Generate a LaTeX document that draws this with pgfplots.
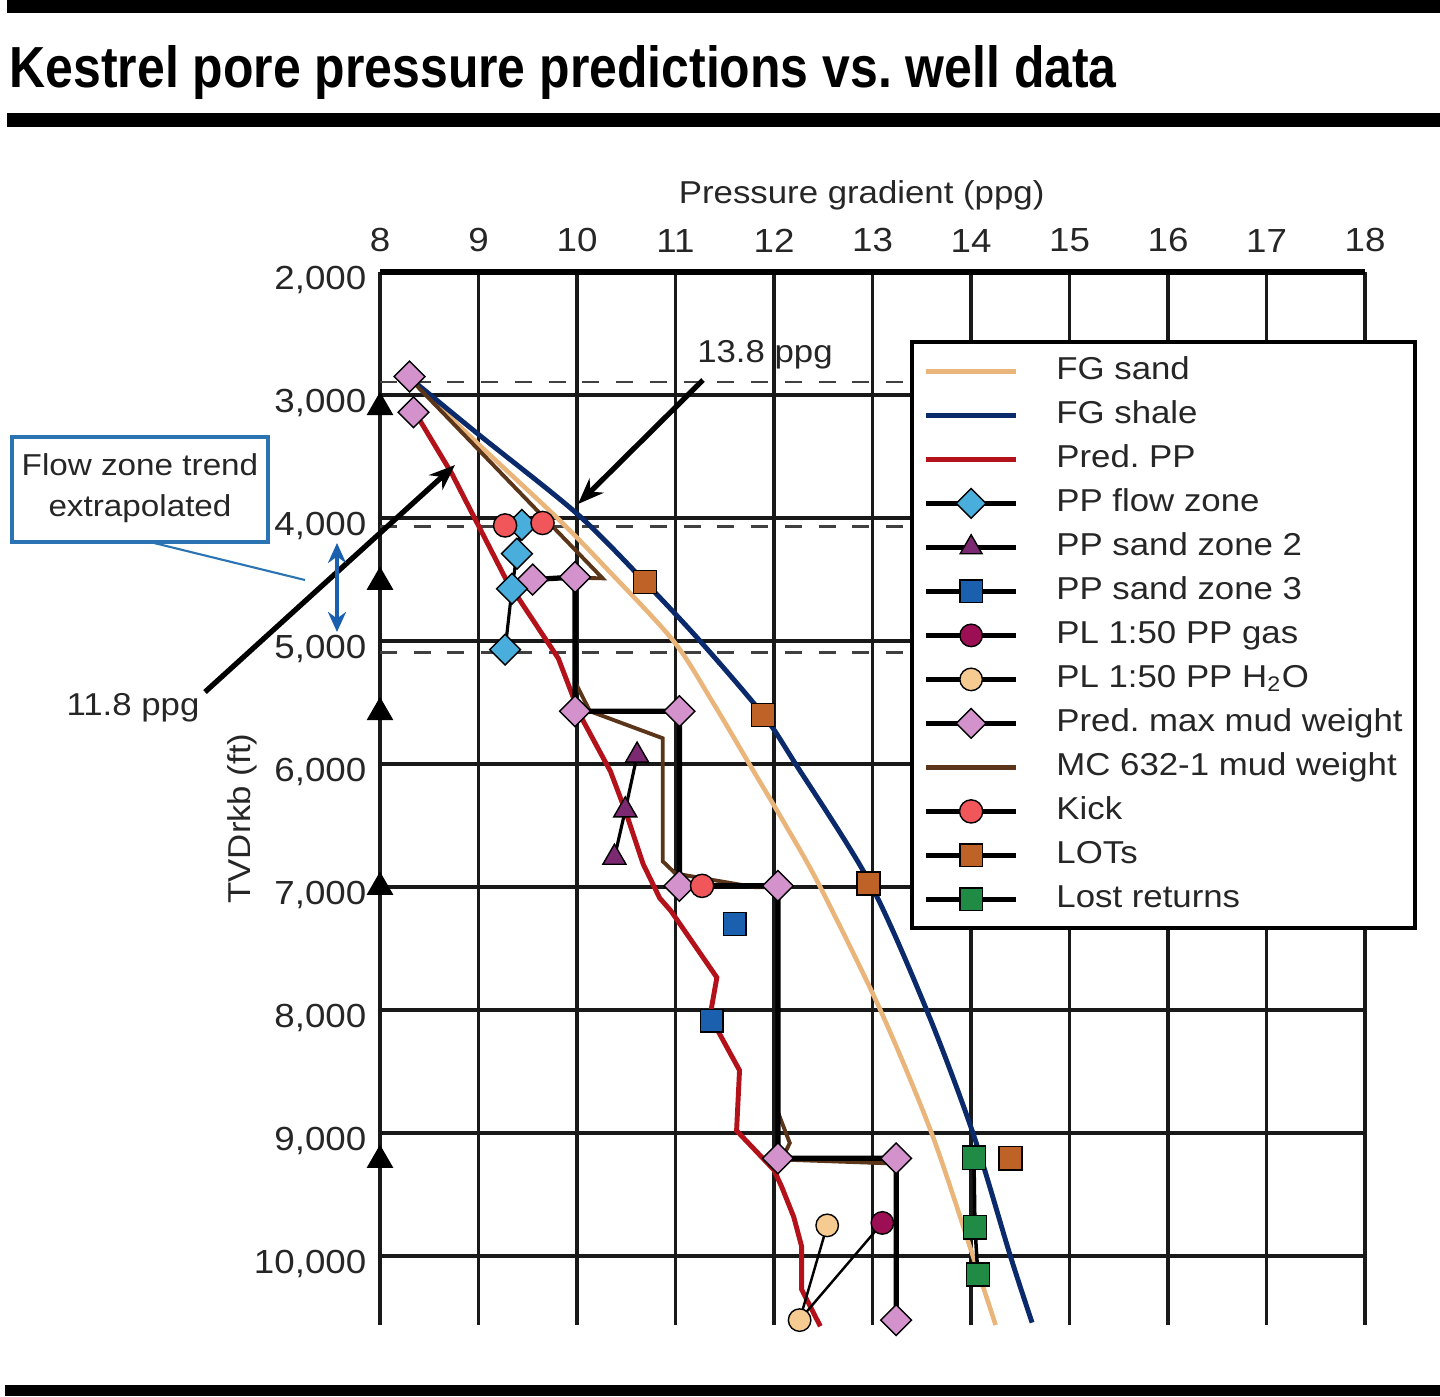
\documentclass[border=0pt]{standalone}
\usepackage{fontspec}
\setmainfont{Liberation Sans}[FakeStretch=1.1]
\usepackage{graphicx}
\usepackage{pgfplots}
\pgfplotsset{compat=1.18}
\usetikzlibrary{arrows.meta}
\frenchspacing

\definecolor{fgsand}{HTML}{E9B57A}
\definecolor{fgshale}{HTML}{0B2A6B}
\definecolor{predpp}{HTML}{B3121B}
\definecolor{flowzone}{HTML}{4AAEDC}
\definecolor{sandtwo}{HTML}{7B2A72}
\definecolor{sandthree}{HTML}{1B60AE}
\definecolor{gas}{HTML}{9C0F55}
\definecolor{water}{HTML}{F6CB92}
\definecolor{maxmud}{HTML}{D392CC}
\definecolor{mcmud}{HTML}{5B3519}
\definecolor{kick}{HTML}{F0565A}
\definecolor{lot}{HTML}{BF6228}
\definecolor{lostret}{HTML}{1F8B45}
\definecolor{boxblue}{HTML}{2A74B4}

\pgfplotsset{
  mk/.style={mark options={draw=black, line width=0.4pt, solid, fill=#1}},
  mkd/.style={mark options={rotate=45, draw=black, line width=0.4pt, solid, fill=#1}},
}

\begin{document}
\begin{tikzpicture}
\useasboundingbox (0,0) rectangle (14.40,-13.96);

% rules and title
\fill (0.07,0) rectangle (14.40,-0.13);
\fill (0.07,-1.13) rectangle (14.40,-1.27);
\fill (0.05,-13.85) rectangle (14.40,-13.96);
\node[anchor=base west, inner sep=0pt] at (0.09,-0.87)
  {\resizebox{11.07cm}{0.42cm}{\bfseries Kestrel pore pressure predictions vs. well data}};

\begin{axis}[
  at={(3.80cm,-2.72cm)}, anchor=north west,
  scale only axis, width=9.85cm, height=10.53cm,
  xmin=8, xmax=18, ymin=2000, ymax=10560,
  y dir=reverse,
  xtick={8,9,...,18}, ytick={2000,3000,...,10000},
  scaled y ticks=false,
  xticklabel pos=upper,
  grid=major,
  major grid style={black!90, line width=1pt},
  axis line style={draw=none},
  major tick length=0pt, tick style={draw=none},
  clip=false,
  font=\fontsize{9}{11}\selectfont,
  tick label style={font=\fontsize{9.5}{11}\selectfont, text=black!85},
  /pgf/number format/1000 sep={,},
  /pgf/number format/assume math mode=true,
  xticklabel style={inner sep=0pt, yshift=0.19cm},
  yticklabel style={inner sep=0pt, xshift=-0.13cm, yshift=-0.08cm},
  xlabel={Pressure gradient (ppg)},
  xlabel style={at={(axis description cs:0.489,1)}, anchor=base, yshift=0.69cm, text=black!85},
  ylabel={TVDrkb (ft)},
  ylabel style={at={(axis description cs:-0.140,0.481)}, anchor=center, text=black!85},
  legend image code/.code={
    \draw[mark repeat=2, mark phase=2] plot coordinates {(0cm,0cm) (0.45cm,0cm) (0.9cm,0cm)};
  },
  legend cell align=left,
  legend style={
    at={(0.538,0.935)}, anchor=north west,
    draw=black, line width=1.1pt, fill=white,
    inner xsep=0.12cm, inner ysep=0.07cm,
    font=\fontsize{9}{11}\selectfont, text=black!85,
    row sep=0pt, column sep=0.38cm,
    nodes={inner sep=0pt, text height=0.3cm, text depth=0.14cm},
  },
]

% legend
\addlegendimage{fgsand, line width=1.3pt}
\addlegendentry{FG sand}
\addlegendimage{fgshale, line width=1.3pt}
\addlegendentry{FG shale}
\addlegendimage{predpp, line width=1.3pt}
\addlegendentry{Pred. PP}
\addlegendimage{black, line width=1.3pt, mark=square*, mark size=3pt, mkd=flowzone}
\addlegendentry{PP flow zone}
\addlegendimage{black, line width=1.3pt, mark=triangle*, mark size=3.6pt, mk=sandtwo}
\addlegendentry{PP sand zone 2}
\addlegendimage{black, line width=1.3pt, mark=square*, mark size=3.2pt, mk=sandthree}
\addlegendentry{PP sand zone 3}
\addlegendimage{black, line width=1.3pt, mark=*, mark size=3.2pt, mk=gas}
\addlegendentry{PL 1:50 PP gas}
\addlegendimage{black, line width=1.3pt, mark=*, mark size=3.2pt, mk=water}
\addlegendentry{PL 1:50 PP H\textsubscript{2}O}
\addlegendimage{black, line width=1.3pt, mark=square*, mark size=3pt, mkd=maxmud}
\addlegendentry{Pred. max mud weight}
\addlegendimage{mcmud, line width=1.3pt}
\addlegendentry{MC 632-1 mud weight}
\addlegendimage{black, line width=1.3pt, mark=*, mark size=3.3pt, mk=kick}
\addlegendentry{Kick}
\addlegendimage{black, line width=1.3pt, mark=square*, mark size=3.2pt, mk=lot}
\addlegendentry{LOTs}
\addlegendimage{black, line width=1.3pt, mark=square*, mark size=3.2pt, mk=lostret}
\addlegendentry{Lost returns}

% dashed reference depths
\addplot[forget plot, black!75, line width=0.75pt, dash pattern=on 4.8pt off 4.8pt]
  coordinates {(8,2894) (18,2894)};
\addplot[forget plot, black!75, line width=0.75pt, dash pattern=on 4.8pt off 4.8pt]
  coordinates {(8,4070) (18,4070)};
\addplot[forget plot, black!75, line width=0.75pt, dash pattern=on 4.8pt off 4.8pt]
  coordinates {(8,5095) (18,5095)};

% FG sand
\addplot[forget plot, fgsand, line width=1.3pt, smooth] coordinates {
  (8.32,2880) (9.0,3400) (9.8,4000) (10.3,4410) (10.98,5000) (11.38,5500)
  (11.75,6000) (12.12,6500) (12.47,7000) (13.08,8000) (13.6,9000)
  (14.02,10000) (14.25,10560)
};
% FG shale
\addplot[forget plot, fgshale, line width=1.4pt, smooth] coordinates {
  (8.30,2860) (9.0,3320) (10.0,3965) (10.69,4520) (11.25,5000) (11.89,5600)
  (12.22,6000) (12.97,6960) (13.55,8000) (14.02,9000) (14.40,10000) (14.62,10540)
};
% MC 632-1 mud weight
\addplot[forget plot, mcmud, line width=1.1pt] coordinates {
  (8.32,2880) (10.26,4490) (9.98,4485) (9.98,5330) (10.13,5570) (10.87,5790)
  (10.87,6790) (11.0,6890) (11.8,7000) (12.04,7000) (12.04,8830) (12.16,9080)
  (12.08,9215) (13.15,9245)
};
% Pred. PP
\addplot[forget plot, predpp, line width=1.4pt] coordinates {
  (8.34,3140) (8.4,3200) (8.73,3640) (9.28,4500) (9.81,5140) (10.03,5600)
  (10.34,6060) (10.5,6400) (10.67,6810) (10.84,7090) (10.95,7190) (11.42,7735)
  (11.35,8050) (11.65,8490) (11.62,8980) (12.0,9300) (12.08,9440) (12.2,9680)
  (12.28,9920) (12.28,10270) (12.47,10570)
};
% Pred. max mud weight
\addplot[forget plot, black, line width=1.5pt, mark=square*, mark size=3.1pt, mkd=maxmud] coordinates {
  (9.55,4500) (9.98,4480) (9.98,5570) (11.04,5570) (11.04,6990) (12.04,6990)
  (12.04,9205) (13.24,9205) (13.24,10520)
};
\addplot[forget plot, only marks, mark=square*, mark size=3.1pt, mkd=maxmud] coordinates {
  (8.30,2850) (8.34,3140)
};
% PP flow zone
\addplot[forget plot, black, line width=0.9pt, mark=square*, mark size=3.1pt, mkd=flowzone] coordinates {
  (9.44,4055) (9.39,4290) (9.34,4575) (9.27,5070)
};
% PP sand zone 2
\addplot[forget plot, black, line width=0.9pt, mark=triangle*, mark size=3.8pt, mk=sandtwo] coordinates {
  (10.61,5930) (10.49,6375) (10.38,6760)
};
% PP sand zone 3
\addplot[forget plot, only marks, mark=square*, mark size=3.2pt, mk=sandthree] coordinates {
  (11.6,7300) (11.37,8085)
};
% PL 1:50 PP gas
\addplot[forget plot, black, line width=0.7pt, mark=*, mark indices={1}, mark size=3.2pt, mk=gas] coordinates {
  (13.1,9730) (12.28,10500)
};
% PL 1:50 PP H2O
\addplot[forget plot, black, line width=0.7pt, mark=*, mark size=3.2pt, mk=water] coordinates {
  (12.54,9750) (12.26,10520)
};
% Kick
\addplot[forget plot, only marks, mark=*, mark size=3.3pt, mk=kick] coordinates {
  (9.27,4060) (9.65,4040) (11.27,6990)
};
% LOTs
\addplot[forget plot, only marks, mark=square*, mark size=3.3pt, mk=lot] coordinates {
  (10.69,4520) (11.89,5600) (12.96,6970) (14.4,9205)
};
% Lost returns
\addplot[forget plot, black, line width=1pt, mark=square*, mark size=3.3pt, mk=lostret] coordinates {
  (14.03,9200) (14.04,9765) (14.07,10150)
};
% casing points on the depth axis
\addplot[forget plot, only marks, mark=triangle*, mark size=4pt, black] coordinates {
  (8,3100) (8,4520) (8,5580) (8,7000) (8,9220)
};

\draw[line width=1.6pt] (axis cs:8,2000) -- (axis cs:18,2000);
\end{axis}

% annotations
\node[font=\fontsize{9}{11}\selectfont, text=black!85] at (7.65,-3.55) {13.8 ppg};
\draw[line width=1.5pt, -{Stealth[length=0.26cm, width=0.2cm]}] (7.03,-3.80) -- (5.78,-5.04);
\node[font=\fontsize{9}{11}\selectfont, text=black!85] at (1.33,-7.08) {11.8 ppg};
\draw[line width=1.5pt, -{Stealth[length=0.26cm, width=0.2cm]}] (2.05,-6.92) -- (4.55,-4.65);
\draw[boxblue, line width=1pt, fill=white] (0.12,-4.37) rectangle (2.68,-5.42);
\node[align=center, font=\fontsize{8.6}{11.7}\selectfont, text=black!85] at (1.40,-4.88) {Flow zone trend\\extrapolated};
\draw[boxblue, line width=0.6pt] (1.50,-5.42) -- (3.05,-5.80);
\draw[sandthree, line width=1.1pt, {Stealth[length=0.2cm, width=0.18cm]}-{Stealth[length=0.2cm, width=0.18cm]}] (3.37,-5.43) -- (3.37,-6.32);
\end{tikzpicture}
\end{document}
